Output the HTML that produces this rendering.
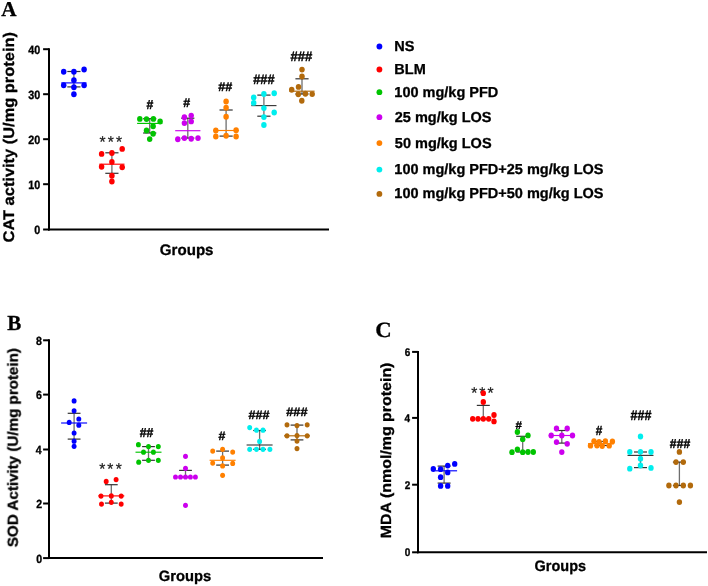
<!DOCTYPE html><html><head><meta charset="utf-8"><style>html,body{margin:0;padding:0;background:#fff;overflow:hidden}svg{display:block}</style></head><body>
<svg width="708" height="586" viewBox="0 0 708 586" text-rendering="geometricPrecision">
<rect width="708" height="586" fill="#fff"/>
<line x1="49" y1="48.2" x2="49" y2="230.5" stroke="#000" stroke-width="2"/>
<line x1="48" y1="229.5" x2="329" y2="229.5" stroke="#000" stroke-width="2"/>
<line x1="43.1" y1="49.2" x2="49" y2="49.2" stroke="#000" stroke-width="2"/>
<line x1="43.1" y1="94.2" x2="49" y2="94.2" stroke="#000" stroke-width="2"/>
<line x1="43.1" y1="139.2" x2="49" y2="139.2" stroke="#000" stroke-width="2"/>
<line x1="43.1" y1="184.2" x2="49" y2="184.2" stroke="#000" stroke-width="2"/>
<line x1="43.1" y1="229.5" x2="49" y2="229.5" stroke="#000" stroke-width="2"/>
<line x1="73.9" y1="71.5" x2="73.9" y2="86.9" stroke="#6e6e6e" stroke-width="1.3"/>
<line x1="67.3" y1="71.5" x2="80.5" y2="71.5" stroke="#333" stroke-width="1.2"/>
<line x1="67.3" y1="86.9" x2="80.5" y2="86.9" stroke="#333" stroke-width="1.2"/>
<line x1="61.3" y1="82.9" x2="86.5" y2="82.9" stroke="#0000ff" stroke-width="1.15"/>
<line x1="111.9" y1="152.8" x2="111.9" y2="173.3" stroke="#6e6e6e" stroke-width="1.3"/>
<line x1="105.3" y1="152.8" x2="118.5" y2="152.8" stroke="#333" stroke-width="1.2"/>
<line x1="105.3" y1="173.3" x2="118.5" y2="173.3" stroke="#333" stroke-width="1.2"/>
<line x1="99.3" y1="164.2" x2="124.5" y2="164.2" stroke="#ff0000" stroke-width="1.15"/>
<line x1="149.7" y1="118.7" x2="149.7" y2="133" stroke="#6e6e6e" stroke-width="1.3"/>
<line x1="143.1" y1="118.7" x2="156.3" y2="118.7" stroke="#333" stroke-width="1.2"/>
<line x1="143.1" y1="133" x2="156.3" y2="133" stroke="#333" stroke-width="1.2"/>
<line x1="137.1" y1="123.4" x2="162.3" y2="123.4" stroke="#00c400" stroke-width="1.15"/>
<line x1="187.8" y1="118.2" x2="187.8" y2="138.1" stroke="#6e6e6e" stroke-width="1.3"/>
<line x1="181.2" y1="118.2" x2="194.4" y2="118.2" stroke="#333" stroke-width="1.2"/>
<line x1="181.2" y1="138.1" x2="194.4" y2="138.1" stroke="#333" stroke-width="1.2"/>
<line x1="175.2" y1="130.7" x2="200.4" y2="130.7" stroke="#cc00ee" stroke-width="1.15"/>
<line x1="226.1" y1="110" x2="226.1" y2="136.1" stroke="#6e6e6e" stroke-width="1.3"/>
<line x1="219.5" y1="110" x2="232.7" y2="110" stroke="#333" stroke-width="1.2"/>
<line x1="219.5" y1="136.1" x2="232.7" y2="136.1" stroke="#333" stroke-width="1.2"/>
<line x1="213.5" y1="130.5" x2="238.7" y2="130.5" stroke="#ff8000" stroke-width="1.15"/>
<line x1="263.9" y1="95.1" x2="263.9" y2="116.2" stroke="#6e6e6e" stroke-width="1.3"/>
<line x1="257.3" y1="95.1" x2="270.5" y2="95.1" stroke="#333" stroke-width="1.2"/>
<line x1="257.3" y1="116.2" x2="270.5" y2="116.2" stroke="#333" stroke-width="1.2"/>
<line x1="251.3" y1="105.6" x2="276.5" y2="105.6" stroke="#3c3c3c" stroke-width="1.15"/>
<line x1="302" y1="78.8" x2="302" y2="94" stroke="#6e6e6e" stroke-width="1.3"/>
<line x1="295.4" y1="78.8" x2="308.6" y2="78.8" stroke="#333" stroke-width="1.2"/>
<line x1="295.4" y1="94" x2="308.6" y2="94" stroke="#333" stroke-width="1.2"/>
<line x1="289.4" y1="91.2" x2="314.6" y2="91.2" stroke="#b26a0c" stroke-width="1.15"/>
<line x1="49" y1="339.3" x2="49" y2="559.1" stroke="#000" stroke-width="2"/>
<line x1="48" y1="558.1" x2="323" y2="558.1" stroke="#000" stroke-width="2"/>
<line x1="43.1" y1="340.3" x2="49" y2="340.3" stroke="#000" stroke-width="2"/>
<line x1="43.1" y1="394.6" x2="49" y2="394.6" stroke="#000" stroke-width="2"/>
<line x1="43.1" y1="449.5" x2="49" y2="449.5" stroke="#000" stroke-width="2"/>
<line x1="43.1" y1="503.5" x2="49" y2="503.5" stroke="#000" stroke-width="2"/>
<line x1="43.1" y1="558.1" x2="49" y2="558.1" stroke="#000" stroke-width="2"/>
<line x1="74.1" y1="413.3" x2="74.1" y2="439.1" stroke="#6e6e6e" stroke-width="1.3"/>
<line x1="67.7" y1="413.3" x2="80.5" y2="413.3" stroke="#333" stroke-width="1.2"/>
<line x1="67.7" y1="439.1" x2="80.5" y2="439.1" stroke="#333" stroke-width="1.2"/>
<line x1="61.1" y1="423" x2="87.1" y2="423" stroke="#0000ff" stroke-width="1.15"/>
<line x1="111.3" y1="484.7" x2="111.3" y2="503.1" stroke="#6e6e6e" stroke-width="1.3"/>
<line x1="104.9" y1="484.7" x2="117.7" y2="484.7" stroke="#333" stroke-width="1.2"/>
<line x1="104.9" y1="503.1" x2="117.7" y2="503.1" stroke="#333" stroke-width="1.2"/>
<line x1="98.3" y1="495.9" x2="124.3" y2="495.9" stroke="#ff0000" stroke-width="1.15"/>
<line x1="148.5" y1="446.6" x2="148.5" y2="460.3" stroke="#6e6e6e" stroke-width="1.3"/>
<line x1="142.1" y1="446.6" x2="154.9" y2="446.6" stroke="#333" stroke-width="1.2"/>
<line x1="142.1" y1="460.3" x2="154.9" y2="460.3" stroke="#333" stroke-width="1.2"/>
<line x1="135.5" y1="452.2" x2="161.5" y2="452.2" stroke="#00c400" stroke-width="1.15"/>
<line x1="185.5" y1="470.4" x2="185.5" y2="477" stroke="#6e6e6e" stroke-width="1.3"/>
<line x1="179.1" y1="470.4" x2="191.9" y2="470.4" stroke="#333" stroke-width="1.2"/>
<line x1="179.1" y1="477" x2="191.9" y2="477" stroke="#333" stroke-width="1.2"/>
<line x1="222.6" y1="451.1" x2="222.6" y2="465.1" stroke="#6e6e6e" stroke-width="1.3"/>
<line x1="216.2" y1="451.1" x2="229" y2="451.1" stroke="#333" stroke-width="1.2"/>
<line x1="216.2" y1="465.1" x2="229" y2="465.1" stroke="#333" stroke-width="1.2"/>
<line x1="209.6" y1="460.3" x2="235.6" y2="460.3" stroke="#ff8000" stroke-width="1.15"/>
<line x1="259.6" y1="430.5" x2="259.6" y2="449.3" stroke="#6e6e6e" stroke-width="1.3"/>
<line x1="253.2" y1="430.5" x2="266" y2="430.5" stroke="#333" stroke-width="1.2"/>
<line x1="253.2" y1="449.3" x2="266" y2="449.3" stroke="#333" stroke-width="1.2"/>
<line x1="246.6" y1="445" x2="272.6" y2="445" stroke="#3c3c3c" stroke-width="1.15"/>
<line x1="297" y1="425.1" x2="297" y2="439.9" stroke="#6e6e6e" stroke-width="1.3"/>
<line x1="290.6" y1="425.1" x2="303.4" y2="425.1" stroke="#333" stroke-width="1.2"/>
<line x1="290.6" y1="439.9" x2="303.4" y2="439.9" stroke="#333" stroke-width="1.2"/>
<line x1="284" y1="435.8" x2="310" y2="435.8" stroke="#b26a0c" stroke-width="1.15"/>
<line x1="418" y1="351" x2="418" y2="553.3" stroke="#000" stroke-width="2"/>
<line x1="417" y1="552.3" x2="707" y2="552.3" stroke="#000" stroke-width="2"/>
<line x1="412.1" y1="351.9" x2="418" y2="351.9" stroke="#000" stroke-width="2"/>
<line x1="412.1" y1="417.9" x2="418" y2="417.9" stroke="#000" stroke-width="2"/>
<line x1="412.1" y1="484.7" x2="418" y2="484.7" stroke="#000" stroke-width="2"/>
<line x1="412.1" y1="552.3" x2="418" y2="552.3" stroke="#000" stroke-width="2"/>
<line x1="444.1" y1="466.1" x2="444.1" y2="483.1" stroke="#6e6e6e" stroke-width="1.3"/>
<line x1="437.6" y1="466.1" x2="450.6" y2="466.1" stroke="#333" stroke-width="1.2"/>
<line x1="437.6" y1="483.1" x2="450.6" y2="483.1" stroke="#333" stroke-width="1.2"/>
<line x1="435.2" y1="470.8" x2="457.1" y2="470.8" stroke="#0000ff" stroke-width="1.15"/>
<line x1="483.3" y1="405.4" x2="483.3" y2="418.8" stroke="#6e6e6e" stroke-width="1.3"/>
<line x1="476.8" y1="405.4" x2="489.8" y2="405.4" stroke="#333" stroke-width="1.2"/>
<line x1="476.8" y1="418.8" x2="489.8" y2="418.8" stroke="#333" stroke-width="1.2"/>
<line x1="522.7" y1="436.3" x2="522.7" y2="452" stroke="#6e6e6e" stroke-width="1.3"/>
<line x1="516.2" y1="436.3" x2="529.2" y2="436.3" stroke="#333" stroke-width="1.2"/>
<line x1="516.2" y1="452" x2="529.2" y2="452" stroke="#333" stroke-width="1.2"/>
<line x1="561.8" y1="430.5" x2="561.8" y2="443.1" stroke="#6e6e6e" stroke-width="1.3"/>
<line x1="555.3" y1="430.5" x2="568.3" y2="430.5" stroke="#333" stroke-width="1.2"/>
<line x1="555.3" y1="443.1" x2="568.3" y2="443.1" stroke="#333" stroke-width="1.2"/>
<line x1="548.8" y1="435.5" x2="574.8" y2="435.5" stroke="#cc00ee" stroke-width="1.15"/>
<line x1="601" y1="441.5" x2="601" y2="445.5" stroke="#6e6e6e" stroke-width="1.3"/>
<line x1="594.5" y1="441.5" x2="607.5" y2="441.5" stroke="#333" stroke-width="1.2"/>
<line x1="594.5" y1="445.5" x2="607.5" y2="445.5" stroke="#333" stroke-width="1.2"/>
<line x1="588" y1="443.7" x2="614" y2="443.7" stroke="#ff8000" stroke-width="1.15"/>
<line x1="640.5" y1="452" x2="640.5" y2="467.6" stroke="#6e6e6e" stroke-width="1.3"/>
<line x1="634" y1="452" x2="647" y2="452" stroke="#333" stroke-width="1.2"/>
<line x1="634" y1="467.6" x2="647" y2="467.6" stroke="#333" stroke-width="1.2"/>
<line x1="627.5" y1="455.4" x2="653.5" y2="455.4" stroke="#3c3c3c" stroke-width="1.15"/>
<line x1="679.4" y1="462.1" x2="679.4" y2="485.5" stroke="#6e6e6e" stroke-width="1.3"/>
<line x1="672.9" y1="462.1" x2="685.9" y2="462.1" stroke="#333" stroke-width="1.2"/>
<line x1="672.9" y1="485.5" x2="685.9" y2="485.5" stroke="#333" stroke-width="1.2"/>
<defs><filter id="g"><feColorMatrix type="identity"/></filter></defs>
<g filter="url(#g)">
<text x="99.46" y="147.23" font-family='"Liberation Sans", sans-serif' font-size="15.6" font-weight="normal" fill="#1a1a1a" stroke="#1a1a1a" stroke-width="0.25">*</text>
<text x="107.76" y="147.23" font-family='"Liberation Sans", sans-serif' font-size="15.6" font-weight="normal" fill="#1a1a1a" stroke="#1a1a1a" stroke-width="0.25">*</text>
<text x="116.06" y="147.23" font-family='"Liberation Sans", sans-serif' font-size="15.6" font-weight="normal" fill="#1a1a1a" stroke="#1a1a1a" stroke-width="0.25">*</text>
<text x="146.47" y="109.05" font-family='"Liberation Sans", sans-serif' font-size="13.09" font-weight="bold" textLength="6.78" lengthAdjust="spacingAndGlyphs" fill="#000" stroke="#000" stroke-width="0.4">#</text>
<text x="183.16" y="107.35" font-family='"Liberation Sans", sans-serif' font-size="12.5" font-weight="bold" textLength="6.89" lengthAdjust="spacingAndGlyphs" fill="#000" stroke="#000" stroke-width="0.4">#</text>
<text x="218.26" y="90.65" font-family='"Liberation Sans", sans-serif' font-size="12.65" font-weight="bold" textLength="14.01" lengthAdjust="spacingAndGlyphs" fill="#000" stroke="#000" stroke-width="0.4">##</text>
<text x="253.26" y="83.85" font-family='"Liberation Sans", sans-serif' font-size="13.68" font-weight="bold" textLength="21.23" lengthAdjust="spacingAndGlyphs" fill="#000" stroke="#000" stroke-width="0.4">###</text>
<text x="290.45" y="61.45" font-family='"Liberation Sans", sans-serif' font-size="13.82" font-weight="bold" textLength="21.84" lengthAdjust="spacingAndGlyphs" fill="#000" stroke="#000" stroke-width="0.4">###</text>
<text x="99.36" y="473.93" font-family='"Liberation Sans", sans-serif' font-size="15.6" font-weight="normal" fill="#1a1a1a" stroke="#1a1a1a" stroke-width="0.25">*</text>
<text x="107.36" y="473.93" font-family='"Liberation Sans", sans-serif' font-size="15.6" font-weight="normal" fill="#1a1a1a" stroke="#1a1a1a" stroke-width="0.25">*</text>
<text x="115.66" y="473.93" font-family='"Liberation Sans", sans-serif' font-size="15.6" font-weight="normal" fill="#1a1a1a" stroke="#1a1a1a" stroke-width="0.25">*</text>
<text x="139.77" y="437.45" font-family='"Liberation Sans", sans-serif' font-size="13.09" font-weight="bold" textLength="13.6" lengthAdjust="spacingAndGlyphs" fill="#000" stroke="#000" stroke-width="0.4">##</text>
<text x="218.56" y="439.85" font-family='"Liberation Sans", sans-serif' font-size="12.21" font-weight="bold" textLength="6.89" lengthAdjust="spacingAndGlyphs" fill="#000" stroke="#000" stroke-width="0.4">#</text>
<text x="248.46" y="418.95" font-family='"Liberation Sans", sans-serif' font-size="12.21" font-weight="bold" textLength="21.02" lengthAdjust="spacingAndGlyphs" fill="#000" stroke="#000" stroke-width="0.4">###</text>
<text x="286.26" y="415.95" font-family='"Liberation Sans", sans-serif' font-size="12.21" font-weight="bold" textLength="21.23" lengthAdjust="spacingAndGlyphs" fill="#000" stroke="#000" stroke-width="0.4">###</text>
<text x="471.36" y="397.53" font-family='"Liberation Sans", sans-serif' font-size="15.6" font-weight="normal" fill="#1a1a1a" stroke="#1a1a1a" stroke-width="0.25">*</text>
<text x="479.36" y="397.53" font-family='"Liberation Sans", sans-serif' font-size="15.6" font-weight="normal" fill="#1a1a1a" stroke="#1a1a1a" stroke-width="0.25">*</text>
<text x="487.46" y="397.53" font-family='"Liberation Sans", sans-serif' font-size="15.6" font-weight="normal" fill="#1a1a1a" stroke="#1a1a1a" stroke-width="0.25">*</text>
<text x="515.48" y="429.15" font-family='"Liberation Sans", sans-serif' font-size="11.18" font-weight="bold" textLength="6.36" lengthAdjust="spacingAndGlyphs" fill="#000" stroke="#000" stroke-width="0.4">#</text>
<text x="595.67" y="435.05" font-family='"Liberation Sans", sans-serif' font-size="13.24" font-weight="bold" textLength="6.57" lengthAdjust="spacingAndGlyphs" fill="#000" stroke="#000" stroke-width="0.4">#</text>
<text x="630.46" y="420.35" font-family='"Liberation Sans", sans-serif' font-size="14.12" font-weight="bold" textLength="20.92" lengthAdjust="spacingAndGlyphs" fill="#000" stroke="#000" stroke-width="0.4">###</text>
<text x="669.87" y="447.95" font-family='"Liberation Sans", sans-serif' font-size="12.79" font-weight="bold" textLength="20.31" lengthAdjust="spacingAndGlyphs" fill="#000" stroke="#000" stroke-width="0.4">###</text>
</g>
<ellipse cx="63.7" cy="71.7" rx="2.75" ry="2.94" fill="#0000ff"/>
<ellipse cx="73.9" cy="71.7" rx="2.75" ry="2.94" fill="#0000ff"/>
<ellipse cx="84.1" cy="69.5" rx="2.75" ry="2.94" fill="#0000ff"/>
<ellipse cx="73.9" cy="80.3" rx="2.75" ry="2.94" fill="#0000ff"/>
<ellipse cx="63.7" cy="85.2" rx="2.75" ry="2.94" fill="#0000ff"/>
<ellipse cx="84.1" cy="85.2" rx="2.75" ry="2.94" fill="#0000ff"/>
<ellipse cx="73.9" cy="87.2" rx="2.75" ry="2.94" fill="#0000ff"/>
<ellipse cx="73.9" cy="94.2" rx="2.75" ry="2.94" fill="#0000ff"/>
<ellipse cx="101.6" cy="153.9" rx="2.75" ry="2.94" fill="#ff0000"/>
<ellipse cx="111.9" cy="153" rx="2.75" ry="2.94" fill="#ff0000"/>
<ellipse cx="122.2" cy="148.9" rx="2.75" ry="2.94" fill="#ff0000"/>
<ellipse cx="111.9" cy="161.9" rx="2.75" ry="2.94" fill="#ff0000"/>
<ellipse cx="101.6" cy="166.7" rx="2.75" ry="2.94" fill="#ff0000"/>
<ellipse cx="122.2" cy="167.2" rx="2.75" ry="2.94" fill="#ff0000"/>
<ellipse cx="111.9" cy="175.7" rx="2.75" ry="2.94" fill="#ff0000"/>
<ellipse cx="111.9" cy="181.5" rx="2.75" ry="2.94" fill="#ff0000"/>
<ellipse cx="139.8" cy="118.9" rx="2.75" ry="2.94" fill="#00c400"/>
<ellipse cx="146.5" cy="119.1" rx="2.75" ry="2.94" fill="#00c400"/>
<ellipse cx="153.4" cy="118.9" rx="2.75" ry="2.94" fill="#00c400"/>
<ellipse cx="160.1" cy="121.5" rx="2.75" ry="2.94" fill="#00c400"/>
<ellipse cx="153.1" cy="126.2" rx="2.75" ry="2.94" fill="#00c400"/>
<ellipse cx="146.5" cy="130.5" rx="2.75" ry="2.94" fill="#00c400"/>
<ellipse cx="153.1" cy="133.8" rx="2.75" ry="2.94" fill="#00c400"/>
<ellipse cx="149.7" cy="139.1" rx="2.75" ry="2.94" fill="#00c400"/>
<ellipse cx="184.4" cy="117.3" rx="2.75" ry="2.94" fill="#cc00ee"/>
<ellipse cx="191.2" cy="115.6" rx="2.75" ry="2.94" fill="#cc00ee"/>
<ellipse cx="184.4" cy="123.1" rx="2.75" ry="2.94" fill="#cc00ee"/>
<ellipse cx="191.2" cy="121.4" rx="2.75" ry="2.94" fill="#cc00ee"/>
<ellipse cx="177.8" cy="139.2" rx="2.75" ry="2.94" fill="#cc00ee"/>
<ellipse cx="184.4" cy="138.1" rx="2.75" ry="2.94" fill="#cc00ee"/>
<ellipse cx="191.2" cy="138.7" rx="2.75" ry="2.94" fill="#cc00ee"/>
<ellipse cx="198" cy="138.1" rx="2.75" ry="2.94" fill="#cc00ee"/>
<ellipse cx="226.1" cy="101.5" rx="2.75" ry="2.94" fill="#ff8000"/>
<ellipse cx="226.1" cy="107.8" rx="2.75" ry="2.94" fill="#ff8000"/>
<ellipse cx="226.1" cy="116.8" rx="2.75" ry="2.94" fill="#ff8000"/>
<ellipse cx="215.8" cy="130.5" rx="2.75" ry="2.94" fill="#ff8000"/>
<ellipse cx="236.1" cy="130.2" rx="2.75" ry="2.94" fill="#ff8000"/>
<ellipse cx="215.8" cy="136.5" rx="2.75" ry="2.94" fill="#ff8000"/>
<ellipse cx="226.1" cy="135.7" rx="2.75" ry="2.94" fill="#ff8000"/>
<ellipse cx="236.1" cy="136.5" rx="2.75" ry="2.94" fill="#ff8000"/>
<ellipse cx="263.9" cy="94" rx="2.75" ry="2.94" fill="#00eeee"/>
<ellipse cx="274.2" cy="93.3" rx="2.75" ry="2.94" fill="#00eeee"/>
<ellipse cx="253.7" cy="97.4" rx="2.75" ry="2.94" fill="#00eeee"/>
<ellipse cx="253.7" cy="102.9" rx="2.75" ry="2.94" fill="#00eeee"/>
<ellipse cx="263.9" cy="108.1" rx="2.75" ry="2.94" fill="#00eeee"/>
<ellipse cx="274.2" cy="112.5" rx="2.75" ry="2.94" fill="#00eeee"/>
<ellipse cx="263.9" cy="117.1" rx="2.75" ry="2.94" fill="#00eeee"/>
<ellipse cx="263.9" cy="125" rx="2.75" ry="2.94" fill="#00eeee"/>
<ellipse cx="302" cy="69.6" rx="2.75" ry="2.94" fill="#b26a0c"/>
<ellipse cx="302" cy="76.5" rx="2.75" ry="2.94" fill="#b26a0c"/>
<ellipse cx="298.5" cy="86.9" rx="2.75" ry="2.94" fill="#b26a0c"/>
<ellipse cx="291.7" cy="89.7" rx="2.75" ry="2.94" fill="#b26a0c"/>
<ellipse cx="298.3" cy="94.2" rx="2.75" ry="2.94" fill="#b26a0c"/>
<ellipse cx="305.4" cy="93.7" rx="2.75" ry="2.94" fill="#b26a0c"/>
<ellipse cx="312.2" cy="94.1" rx="2.75" ry="2.94" fill="#b26a0c"/>
<ellipse cx="301.8" cy="100.8" rx="2.75" ry="2.94" fill="#b26a0c"/>
<ellipse cx="74.1" cy="400.9" rx="2.45" ry="2.62" fill="#0000ff"/>
<ellipse cx="74.1" cy="410.8" rx="2.45" ry="2.62" fill="#0000ff"/>
<ellipse cx="78.8" cy="419" rx="2.45" ry="2.62" fill="#0000ff"/>
<ellipse cx="69.2" cy="422.4" rx="2.45" ry="2.62" fill="#0000ff"/>
<ellipse cx="78.8" cy="425.2" rx="2.45" ry="2.62" fill="#0000ff"/>
<ellipse cx="74.1" cy="433" rx="2.45" ry="2.62" fill="#0000ff"/>
<ellipse cx="74.1" cy="441.2" rx="2.45" ry="2.62" fill="#0000ff"/>
<ellipse cx="74.1" cy="446.3" rx="2.45" ry="2.62" fill="#0000ff"/>
<ellipse cx="106.2" cy="481.4" rx="2.45" ry="2.62" fill="#ff0000"/>
<ellipse cx="116.1" cy="479.6" rx="2.45" ry="2.62" fill="#ff0000"/>
<ellipse cx="101" cy="496.1" rx="2.45" ry="2.62" fill="#ff0000"/>
<ellipse cx="111.3" cy="495.9" rx="2.45" ry="2.62" fill="#ff0000"/>
<ellipse cx="121.2" cy="496.1" rx="2.45" ry="2.62" fill="#ff0000"/>
<ellipse cx="101.5" cy="504.1" rx="2.45" ry="2.62" fill="#ff0000"/>
<ellipse cx="111.3" cy="502.3" rx="2.45" ry="2.62" fill="#ff0000"/>
<ellipse cx="121.2" cy="504.1" rx="2.45" ry="2.62" fill="#ff0000"/>
<ellipse cx="138.4" cy="444.7" rx="2.45" ry="2.62" fill="#00c400"/>
<ellipse cx="148.5" cy="446.6" rx="2.45" ry="2.62" fill="#00c400"/>
<ellipse cx="158.3" cy="446.6" rx="2.45" ry="2.62" fill="#00c400"/>
<ellipse cx="143.5" cy="452.2" rx="2.45" ry="2.62" fill="#00c400"/>
<ellipse cx="153.4" cy="452.2" rx="2.45" ry="2.62" fill="#00c400"/>
<ellipse cx="138.7" cy="462.2" rx="2.45" ry="2.62" fill="#00c400"/>
<ellipse cx="148.5" cy="460.3" rx="2.45" ry="2.62" fill="#00c400"/>
<ellipse cx="158.3" cy="460.3" rx="2.45" ry="2.62" fill="#00c400"/>
<ellipse cx="185.5" cy="456.3" rx="2.45" ry="2.62" fill="#cc00ee"/>
<ellipse cx="185.5" cy="468.3" rx="2.45" ry="2.62" fill="#cc00ee"/>
<ellipse cx="175.5" cy="477" rx="2.45" ry="2.62" fill="#cc00ee"/>
<ellipse cx="180.5" cy="477" rx="2.45" ry="2.62" fill="#cc00ee"/>
<ellipse cx="185.5" cy="477" rx="2.45" ry="2.62" fill="#cc00ee"/>
<ellipse cx="190.4" cy="477" rx="2.45" ry="2.62" fill="#cc00ee"/>
<ellipse cx="195.4" cy="477" rx="2.45" ry="2.62" fill="#cc00ee"/>
<ellipse cx="185.5" cy="505.3" rx="2.45" ry="2.62" fill="#cc00ee"/>
<ellipse cx="212.7" cy="451.1" rx="2.45" ry="2.62" fill="#ff8000"/>
<ellipse cx="222.6" cy="449.3" rx="2.45" ry="2.62" fill="#ff8000"/>
<ellipse cx="232.7" cy="452.1" rx="2.45" ry="2.62" fill="#ff8000"/>
<ellipse cx="222.6" cy="457.9" rx="2.45" ry="2.62" fill="#ff8000"/>
<ellipse cx="212.7" cy="463.1" rx="2.45" ry="2.62" fill="#ff8000"/>
<ellipse cx="232.7" cy="463.4" rx="2.45" ry="2.62" fill="#ff8000"/>
<ellipse cx="222.6" cy="465.9" rx="2.45" ry="2.62" fill="#ff8000"/>
<ellipse cx="222.6" cy="475.3" rx="2.45" ry="2.62" fill="#ff8000"/>
<ellipse cx="249.7" cy="427.6" rx="2.45" ry="2.62" fill="#00eeee"/>
<ellipse cx="256.4" cy="430.2" rx="2.45" ry="2.62" fill="#00eeee"/>
<ellipse cx="263" cy="430.2" rx="2.45" ry="2.62" fill="#00eeee"/>
<ellipse cx="259.6" cy="441.4" rx="2.45" ry="2.62" fill="#00eeee"/>
<ellipse cx="249.7" cy="449.3" rx="2.45" ry="2.62" fill="#00eeee"/>
<ellipse cx="256.4" cy="449.3" rx="2.45" ry="2.62" fill="#00eeee"/>
<ellipse cx="263" cy="449.3" rx="2.45" ry="2.62" fill="#00eeee"/>
<ellipse cx="269.9" cy="449.3" rx="2.45" ry="2.62" fill="#00eeee"/>
<ellipse cx="287" cy="424.8" rx="2.45" ry="2.62" fill="#b26a0c"/>
<ellipse cx="297" cy="425.6" rx="2.45" ry="2.62" fill="#b26a0c"/>
<ellipse cx="307.2" cy="424.8" rx="2.45" ry="2.62" fill="#b26a0c"/>
<ellipse cx="287" cy="435.8" rx="2.45" ry="2.62" fill="#b26a0c"/>
<ellipse cx="297" cy="435.6" rx="2.45" ry="2.62" fill="#b26a0c"/>
<ellipse cx="307.2" cy="435.8" rx="2.45" ry="2.62" fill="#b26a0c"/>
<ellipse cx="297" cy="441.1" rx="2.45" ry="2.62" fill="#b26a0c"/>
<ellipse cx="297" cy="448.6" rx="2.45" ry="2.62" fill="#b26a0c"/>
<ellipse cx="433.3" cy="469" rx="2.7" ry="2.89" fill="#0000ff"/>
<ellipse cx="440.6" cy="469.2" rx="2.7" ry="2.89" fill="#0000ff"/>
<ellipse cx="447.7" cy="465.6" rx="2.7" ry="2.89" fill="#0000ff"/>
<ellipse cx="454.7" cy="463.9" rx="2.7" ry="2.89" fill="#0000ff"/>
<ellipse cx="447.7" cy="472.4" rx="2.7" ry="2.89" fill="#0000ff"/>
<ellipse cx="440.6" cy="477.2" rx="2.7" ry="2.89" fill="#0000ff"/>
<ellipse cx="440.6" cy="485.9" rx="2.7" ry="2.89" fill="#0000ff"/>
<ellipse cx="447.7" cy="485.9" rx="2.7" ry="2.89" fill="#0000ff"/>
<ellipse cx="483.3" cy="393.2" rx="2.7" ry="2.89" fill="#ff0000"/>
<ellipse cx="483.3" cy="402" rx="2.7" ry="2.89" fill="#ff0000"/>
<ellipse cx="472.7" cy="418.8" rx="2.7" ry="2.89" fill="#ff0000"/>
<ellipse cx="478" cy="418.8" rx="2.7" ry="2.89" fill="#ff0000"/>
<ellipse cx="483.3" cy="418.8" rx="2.7" ry="2.89" fill="#ff0000"/>
<ellipse cx="488.7" cy="418.8" rx="2.7" ry="2.89" fill="#ff0000"/>
<ellipse cx="494" cy="415" rx="2.7" ry="2.89" fill="#ff0000"/>
<ellipse cx="494" cy="421.4" rx="2.7" ry="2.89" fill="#ff0000"/>
<ellipse cx="517.4" cy="432" rx="2.7" ry="2.89" fill="#00c400"/>
<ellipse cx="528" cy="435.4" rx="2.7" ry="2.89" fill="#00c400"/>
<ellipse cx="522.7" cy="439.2" rx="2.7" ry="2.89" fill="#00c400"/>
<ellipse cx="517.4" cy="449.4" rx="2.7" ry="2.89" fill="#00c400"/>
<ellipse cx="512" cy="452.2" rx="2.7" ry="2.89" fill="#00c400"/>
<ellipse cx="522.7" cy="452.2" rx="2.7" ry="2.89" fill="#00c400"/>
<ellipse cx="528" cy="452" rx="2.7" ry="2.89" fill="#00c400"/>
<ellipse cx="533.3" cy="452" rx="2.7" ry="2.89" fill="#00c400"/>
<ellipse cx="556.5" cy="428.5" rx="2.7" ry="2.89" fill="#cc00ee"/>
<ellipse cx="567.2" cy="428.5" rx="2.7" ry="2.89" fill="#cc00ee"/>
<ellipse cx="551.2" cy="435.5" rx="2.7" ry="2.89" fill="#cc00ee"/>
<ellipse cx="561.8" cy="435.5" rx="2.7" ry="2.89" fill="#cc00ee"/>
<ellipse cx="572.5" cy="435.5" rx="2.7" ry="2.89" fill="#cc00ee"/>
<ellipse cx="556.5" cy="442.1" rx="2.7" ry="2.89" fill="#cc00ee"/>
<ellipse cx="567.2" cy="443.8" rx="2.7" ry="2.89" fill="#cc00ee"/>
<ellipse cx="561.8" cy="452.1" rx="2.7" ry="2.89" fill="#cc00ee"/>
<ellipse cx="590.5" cy="445.7" rx="2.7" ry="2.89" fill="#ff8000"/>
<ellipse cx="594" cy="441.2" rx="2.7" ry="2.89" fill="#ff8000"/>
<ellipse cx="599.1" cy="441.8" rx="2.7" ry="2.89" fill="#ff8000"/>
<ellipse cx="602.2" cy="446" rx="2.7" ry="2.89" fill="#ff8000"/>
<ellipse cx="605.4" cy="441.2" rx="2.7" ry="2.89" fill="#ff8000"/>
<ellipse cx="609.2" cy="445.7" rx="2.7" ry="2.89" fill="#ff8000"/>
<ellipse cx="612.4" cy="441.5" rx="2.7" ry="2.89" fill="#ff8000"/>
<ellipse cx="597" cy="445.5" rx="2.7" ry="2.89" fill="#ff8000"/>
<ellipse cx="640.5" cy="436.5" rx="2.7" ry="2.89" fill="#00eeee"/>
<ellipse cx="629.8" cy="452" rx="2.7" ry="2.89" fill="#00eeee"/>
<ellipse cx="640.5" cy="451.8" rx="2.7" ry="2.89" fill="#00eeee"/>
<ellipse cx="651" cy="452" rx="2.7" ry="2.89" fill="#00eeee"/>
<ellipse cx="640.5" cy="458.7" rx="2.7" ry="2.89" fill="#00eeee"/>
<ellipse cx="640.5" cy="465.5" rx="2.7" ry="2.89" fill="#00eeee"/>
<ellipse cx="629.8" cy="468.7" rx="2.7" ry="2.89" fill="#00eeee"/>
<ellipse cx="651" cy="467.9" rx="2.7" ry="2.89" fill="#00eeee"/>
<ellipse cx="679.4" cy="451.9" rx="2.7" ry="2.89" fill="#b26a0c"/>
<ellipse cx="676" cy="462.1" rx="2.7" ry="2.89" fill="#b26a0c"/>
<ellipse cx="683.3" cy="462.1" rx="2.7" ry="2.89" fill="#b26a0c"/>
<ellipse cx="668.9" cy="485.5" rx="2.7" ry="2.89" fill="#b26a0c"/>
<ellipse cx="676" cy="485.5" rx="2.7" ry="2.89" fill="#b26a0c"/>
<ellipse cx="683.3" cy="485.5" rx="2.7" ry="2.89" fill="#b26a0c"/>
<ellipse cx="690.4" cy="485.5" rx="2.7" ry="2.89" fill="#b26a0c"/>
<ellipse cx="679.4" cy="502.1" rx="2.7" ry="2.89" fill="#b26a0c"/>
<circle cx="379.4" cy="46.5" r="2.9" fill="#0000ff"/>
<circle cx="379.4" cy="69.5" r="2.9" fill="#ff0000"/>
<circle cx="379.4" cy="92.2" r="2.9" fill="#00c400"/>
<circle cx="379.4" cy="117.2" r="2.9" fill="#cc00ee"/>
<circle cx="379.4" cy="143.1" r="2.9" fill="#ff8000"/>
<circle cx="379.4" cy="169.6" r="2.9" fill="#00eeee"/>
<circle cx="379.4" cy="193.9" r="2.9" fill="#b26a0c"/>
<g filter="url(#g)" stroke="#000" stroke-width="0.3">
<text x="1.15" y="15.5" font-family='"Liberation Serif", serif' font-size="21.06" font-weight="bold" textLength="15.3" lengthAdjust="spacingAndGlyphs" fill="#000" >A</text>
<text transform="translate(28.34,49.5) scale(1,1.12)" x="0" y="3.73" font-family='"Liberation Sans", sans-serif' font-size="10.8" font-weight="bold">40</text>
<text transform="translate(28.34,94.5) scale(1,1.12)" x="0" y="3.73" font-family='"Liberation Sans", sans-serif' font-size="10.8" font-weight="bold">30</text>
<text transform="translate(28.34,139.5) scale(1,1.12)" x="0" y="3.73" font-family='"Liberation Sans", sans-serif' font-size="10.8" font-weight="bold">20</text>
<text transform="translate(28.34,184.5) scale(1,1.12)" x="0" y="3.73" font-family='"Liberation Sans", sans-serif' font-size="10.8" font-weight="bold">10</text>
<text transform="translate(34.34,229.8) scale(1,1.12)" x="0" y="3.73" font-family='"Liberation Sans", sans-serif' font-size="10.8" font-weight="bold">0</text>
<text transform="translate(13.77,242.46) rotate(-90)" x="0" y="0" font-family='"Liberation Sans", sans-serif' font-size="15.4" font-weight="bold" textLength="210.41" lengthAdjust="spacingAndGlyphs">CAT activity (U/mg protein)</text>
<text x="159.8" y="255" font-family='"Liberation Sans", sans-serif' font-size="15.29" font-weight="bold" textLength="53.72" lengthAdjust="spacingAndGlyphs" fill="#000" >Groups</text>
<text x="7.15" y="330.29" font-family='"Liberation Serif", serif' font-size="21.36" font-weight="bold" textLength="14.01" lengthAdjust="spacingAndGlyphs" fill="#000" >B</text>
<text transform="translate(36.04,340.6) scale(1,1.12)" x="0" y="3.66" font-family='"Liberation Sans", sans-serif' font-size="10.6" font-weight="bold">8</text>
<text transform="translate(36.09,394.9) scale(1,1.12)" x="0" y="3.66" font-family='"Liberation Sans", sans-serif' font-size="10.6" font-weight="bold">6</text>
<text transform="translate(35.77,449.8) scale(1,1.12)" x="0" y="3.66" font-family='"Liberation Sans", sans-serif' font-size="10.6" font-weight="bold">4</text>
<text transform="translate(36.14,503.8) scale(1,1.12)" x="0" y="3.71" font-family='"Liberation Sans", sans-serif' font-size="10.6" font-weight="bold">2</text>
<text transform="translate(36.14,558.4) scale(1,1.12)" x="0" y="3.66" font-family='"Liberation Sans", sans-serif' font-size="10.6" font-weight="bold">0</text>
<text transform="translate(17.75,547.15) rotate(-90)" x="0" y="0" font-family='"Liberation Sans", sans-serif' font-size="14.55" font-weight="bold" textLength="199.05" lengthAdjust="spacingAndGlyphs">SOD Activity (U/mg protein)</text>
<text x="158.81" y="580.6" font-family='"Liberation Sans", sans-serif' font-size="15" font-weight="bold" textLength="52.39" lengthAdjust="spacingAndGlyphs" fill="#000" >Groups</text>
<text x="375.17" y="337.28" font-family='"Liberation Serif", serif' font-size="21.79" font-weight="bold" textLength="16.39" lengthAdjust="spacingAndGlyphs" fill="#000" >C</text>
<text transform="translate(404.8,352.2) scale(1,1.12)" x="0" y="3.45" font-family='"Liberation Sans", sans-serif' font-size="10" font-weight="bold">6</text>
<text transform="translate(404.5,418.2) scale(1,1.12)" x="0" y="3.45" font-family='"Liberation Sans", sans-serif' font-size="10" font-weight="bold">4</text>
<text transform="translate(404.85,485) scale(1,1.12)" x="0" y="3.5" font-family='"Liberation Sans", sans-serif' font-size="10" font-weight="bold">2</text>
<text transform="translate(404.85,552.6) scale(1,1.12)" x="0" y="3.45" font-family='"Liberation Sans", sans-serif' font-size="10" font-weight="bold">0</text>
<text transform="translate(391.2,538.24) rotate(-90)" x="0" y="0" font-family='"Liberation Sans", sans-serif' font-size="14.76" font-weight="bold" textLength="175.69" lengthAdjust="spacingAndGlyphs">MDA (nmol/mg protein)</text>
<text x="534.62" y="571.2" font-family='"Liberation Sans", sans-serif' font-size="15.14" font-weight="bold" textLength="51.47" lengthAdjust="spacingAndGlyphs" fill="#000" >Groups</text>
<text x="394.36" y="51.3" font-family='"Liberation Sans", sans-serif' font-size="14.5" font-weight="bold" text-anchor="start" fill="#000" >NS</text>
<text x="394.36" y="74.3" font-family='"Liberation Sans", sans-serif' font-size="14.5" font-weight="bold" text-anchor="start" fill="#000" >BLM</text>
<text x="394.36" y="97" font-family='"Liberation Sans", sans-serif' font-size="14.5" font-weight="bold" text-anchor="start" fill="#000" >100 mg/kg PFD</text>
<text x="394.79" y="122" font-family='"Liberation Sans", sans-serif' font-size="14.5" font-weight="bold" text-anchor="start" fill="#000" >25 mg/kg LOS</text>
<text x="394.87" y="148" font-family='"Liberation Sans", sans-serif' font-size="14.5" font-weight="bold" text-anchor="start" fill="#000" >50 mg/kg LOS</text>
<text x="394.36" y="174" font-family='"Liberation Sans", sans-serif' font-size="14.5" font-weight="bold" text-anchor="start" fill="#000" >100 mg/kg PFD+25 mg/kg LOS</text>
<text x="394.36" y="198.3" font-family='"Liberation Sans", sans-serif' font-size="14.5" font-weight="bold" text-anchor="start" fill="#000" >100 mg/kg PFD+50 mg/kg LOS</text>
</g>
</svg></body></html>
